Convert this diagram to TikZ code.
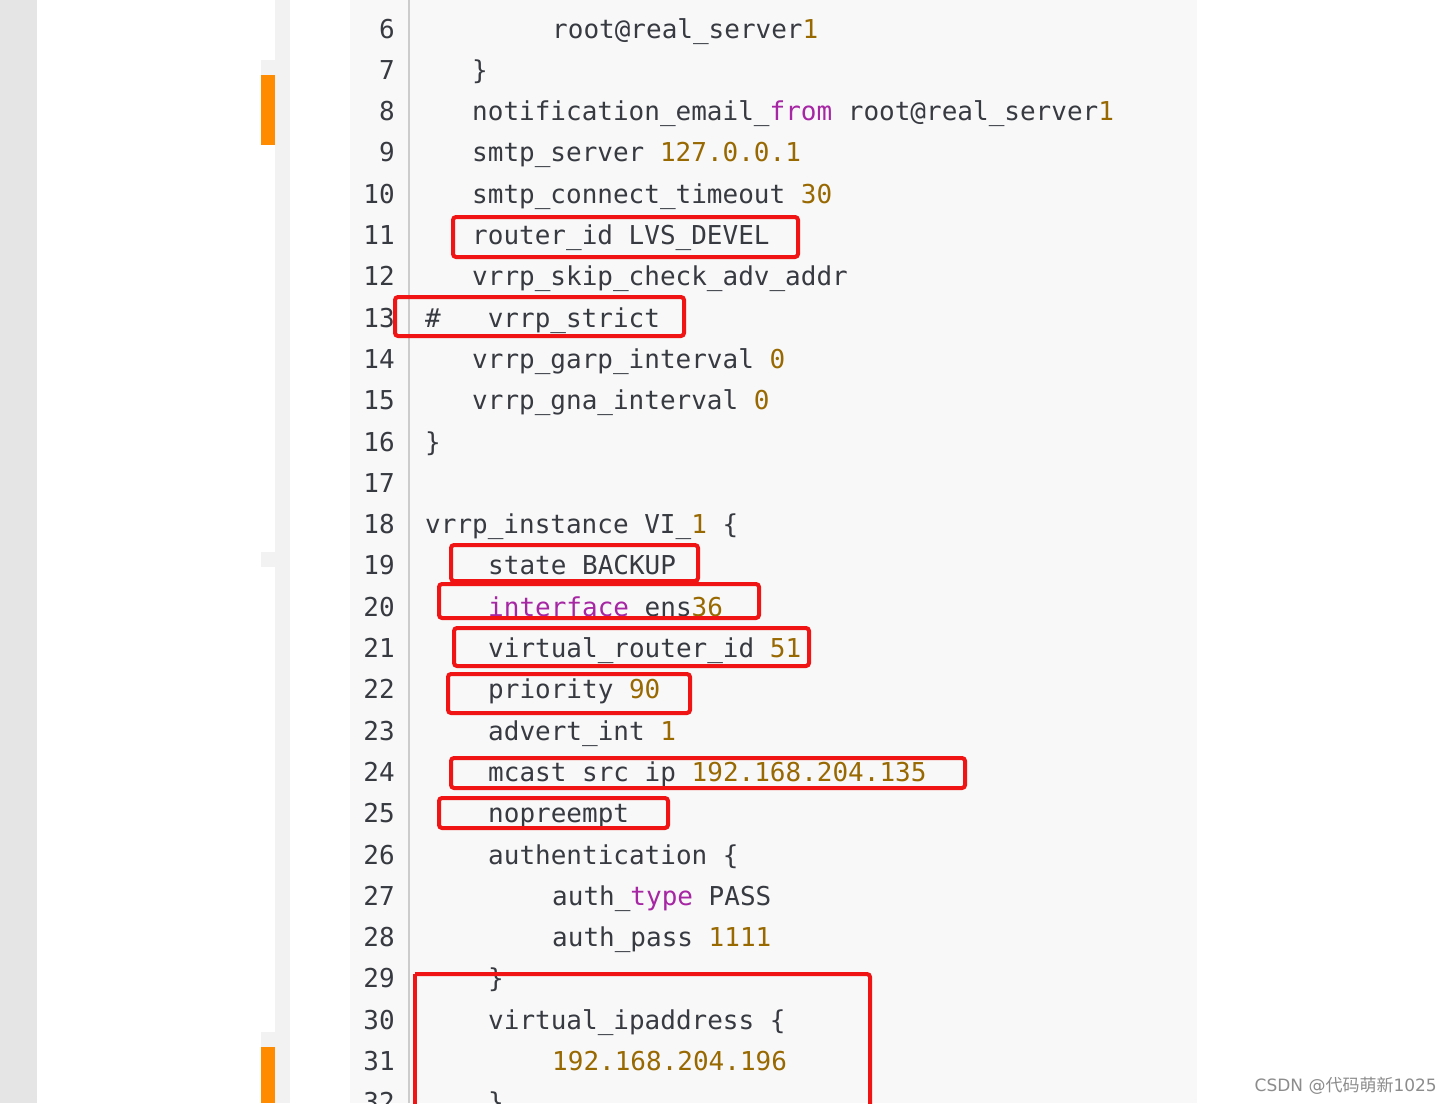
\documentclass[tikz,border=0pt]{standalone}
\usepackage{fontspec}
\usepackage{xcolor}
\setmonofont{DejaVu Sans Mono}
\setsansfont{DejaVu Sans}
\newfontfamily\cjk{Noto Sans CJK SC}
\definecolor{txt}{HTML}{383A42}
\definecolor{num}{HTML}{986801}
\definecolor{kw}{HTML}{A626A4}
\definecolor{codebg}{HTML}{F8F8F8}
\newcommand{\us}{\char95 }
\newcommand{\N}[1]{\textcolor{num}{#1}}
\newcommand{\K}[1]{\textcolor{kw}{#1}}
\begin{document}
\begin{tikzpicture}[x=1pt,y=-1pt,
  code/.style={anchor=base west,inner sep=0pt,font=\ttfamily\fontsize{26}{26}\selectfont,text=txt},
  ln/.style={anchor=base east,inner sep=0pt,font=\ttfamily\fontsize{26}{26}\selectfont,text=txt},
  redbox/.style={draw={rgb,255:red,240;green,20;blue,20},line width=4pt,rounded corners=3pt}]
\useasboundingbox (0,0) rectangle (1453,1103);
\fill[white] (0,0) rectangle (1453,1103);
\fill[black!10] (0,0) rectangle (37,1103);
\fill[black!5] (275,0) rectangle (290,1103);
\fill[black!5] (261,60) rectangle (275,75);
\fill[black!5] (261,552) rectangle (275,567);
\fill[black!5] (261,1032) rectangle (275,1047);
\fill[codebg] (350,0) rectangle (1197,1103);
\fill[orange!90!yellow] (261,75) rectangle (275,145);
\fill[orange!90!yellow] (261,1047) rectangle (275,1103);
\draw[black!20,line width=1.5pt] (409,0) -- (409,1103);
\foreach \n in {6,...,32}{
  \node[ln] (l\n) at (395,{38+(\n-6)*41.3}) {\n};
}
\def\Y#1{{38+(#1-6)*41.3}}
\node[code] (c6) at (552,\Y{6}) {root@real\us server\N{1}};
\node[code] (c7) at (472,\Y{7}) {\}};
\node[code] (c8) at (472,\Y{8}) {notification\us email\us\K{from} root@real\us server\N{1}};
\node[code] (c9) at (472,\Y{9}) {smtp\us server \N{127.0.0.1}};
\node[code] (c10) at (472,\Y{10}) {smtp\us connect\us timeout \N{30}};
\node[code] (c11) at (472,\Y{11}) {router\us id LVS\us DEVEL};
\node[code] (c12) at (472,\Y{12}) {vrrp\us skip\us check\us adv\us addr};
\node[code] (c13) at (425,\Y{13}) {\#\ \ \ vrrp\us strict};
\node[code] (c14) at (472,\Y{14}) {vrrp\us garp\us interval \N{0}};
\node[code] (c15) at (472,\Y{15}) {vrrp\us gna\us interval \N{0}};
\node[code] (c16) at (425,\Y{16}) {\}};
\node[code] (c18) at (425,\Y{18}) {vrrp\us instance VI\us\N{1} \{};
\node[code] (c19) at (488,\Y{19}) {state BACKUP};
\node[code] (c20) at (488,\Y{20}) {\K{interface} ens\N{36}};
\node[code] (c21) at (488,\Y{21}) {virtual\us router\us id \N{51}};
\node[code] (c22) at (488,\Y{22}) {priority \N{90}};
\node[code] (c23) at (488,\Y{23}) {advert\us int \N{1}};
\node[code] (c24) at (488,\Y{24}) {mcast\us src\us ip \N{192.168.204.135}};
\node[code] (c25) at (488,\Y{25}) {nopreempt};
\node[code] (c26) at (488,\Y{26}) {authentication \{};
\node[code] (c27) at (552,\Y{27}) {auth\us\K{type} PASS};
\node[code] (c28) at (552,\Y{28}) {auth\us pass \N{1111}};
\node[code] (c29) at (488,\Y{29}) {\}};
\node[code] (c30) at (488,\Y{30}) {virtual\us ipaddress \{};
\node[code] (c31) at (552,\Y{31}) {\N{192.168.204.196}};
\node[code] (c32) at (488,\Y{32}) {\}};
\draw[redbox] (453,217) rectangle (798,257);
\draw[redbox] (395,297) rectangle (684,336);
\draw[redbox] (451,545) rectangle (698,581);
\draw[redbox] (439,584) rectangle (759,618);
\draw[redbox] (454,628) rectangle (809,666);
\draw[redbox] (448,674) rectangle (690,713);
\draw[redbox] (451,758) rectangle (965,788);
\draw[redbox] (439,798) rectangle (668,828);
\draw[redbox] (415,974) -- (870,974) -- (870,1110);
\draw[redbox] (415,1110) -- (415,974);
\node[anchor=base east,inner sep=0pt,text=black!45,font=\sffamily\fontsize{17}{17}\selectfont] (wm) at (1437,1091) {CSDN @{\cjk 代码萌新}1025};
\end{tikzpicture}
\end{document}
